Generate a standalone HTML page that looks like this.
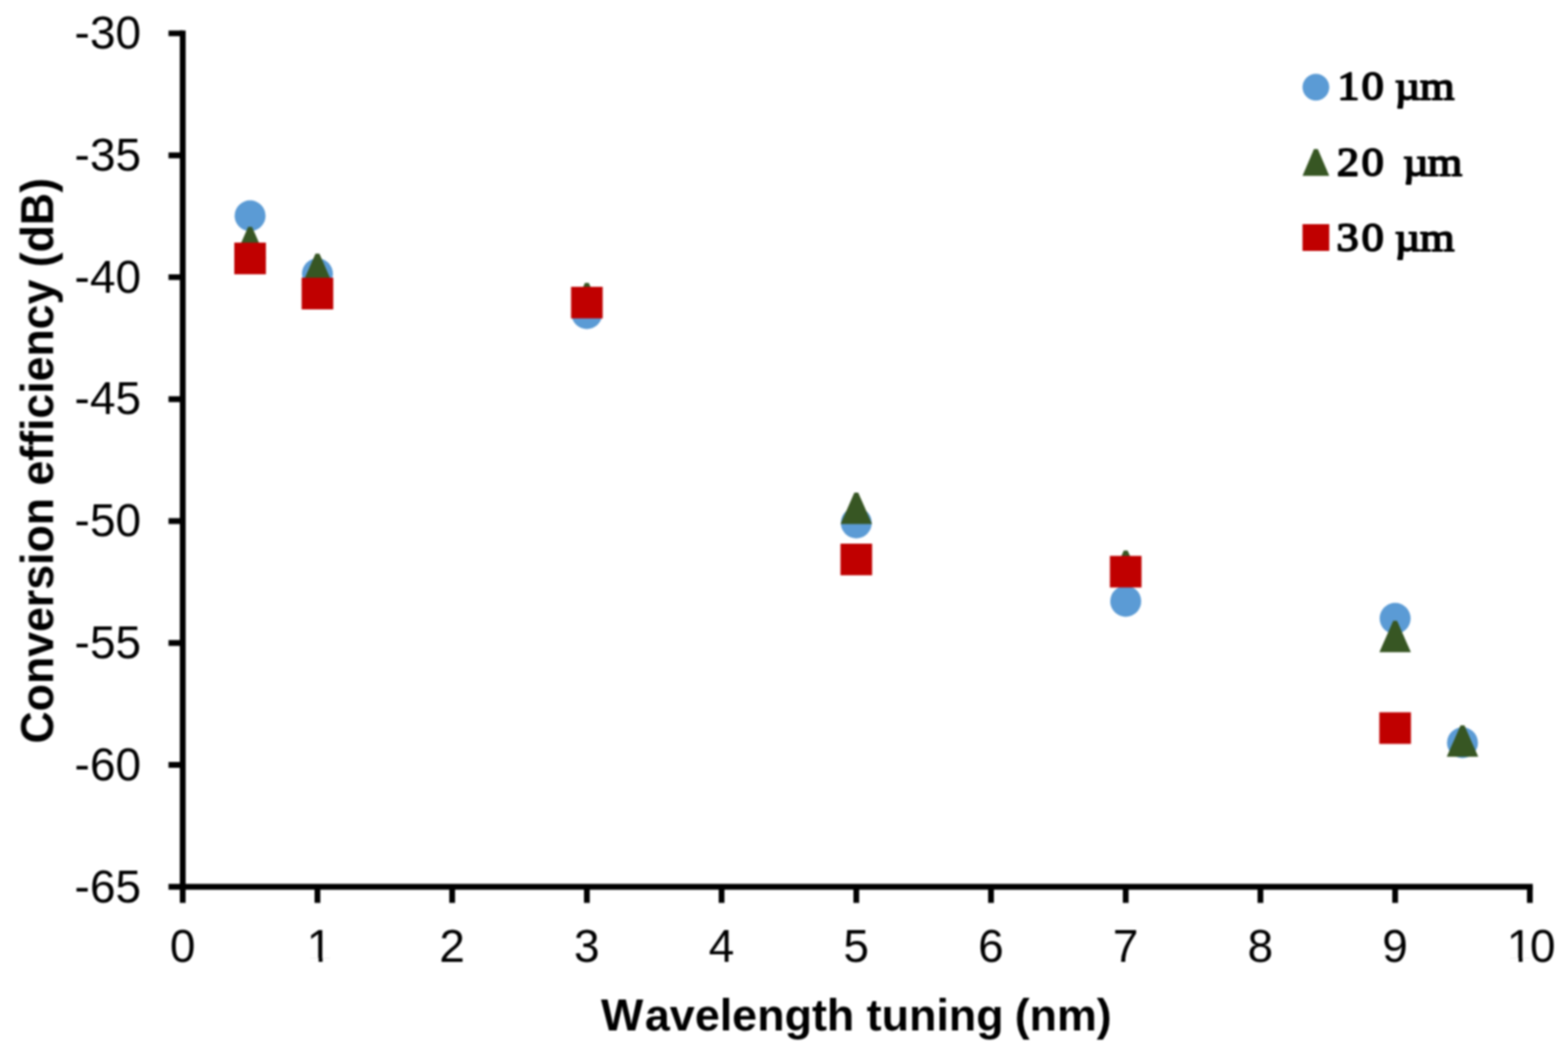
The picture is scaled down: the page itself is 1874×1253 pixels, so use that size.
<!DOCTYPE html>
<html lang="en">
<head>
<meta charset="utf-8">
<title>Conversion efficiency vs wavelength tuning</title>
<style>
html,body{margin:0;padding:0;background:#fff;overflow:hidden;}
body{width:1874px;height:1253px;overflow:hidden;}
svg{display:block;}
text{font-family:"Liberation Sans",sans-serif;fill:#000;}
.tl{font-size:55px;}
.ti{font-size:54.5px;font-weight:bold;}
.lg{font-family:"Liberation Serif",serif;font-size:48.8px;stroke:#000;stroke-width:2px;stroke-linejoin:round;white-space:pre;}
</style>
</head>
<body>
<svg width="1874" height="1253" viewBox="0 0 1874 1253">
<rect width="1874" height="1253" fill="#fff"/>
<defs><filter id="soft" x="-2%" y="-2%" width="104%" height="104%" color-interpolation-filters="sRGB"><feGaussianBlur stdDeviation="1.3"/></filter></defs>
<g filter="url(#soft)">
<g stroke="#000" fill="none" stroke-linecap="butt">
<path stroke-width="7" d="M218.4 36.4 V1063.8"/>
<path stroke-width="7" d="M214.9 1060.3 H1831.9"/>
<path stroke-width="6.9" d="M201.4 39.9H218.4M201.4 185.7H218.4M201.4 331.4H218.4M201.4 477.2H218.4M201.4 623.0H218.4M201.4 768.8H218.4M201.4 914.5H218.4M201.4 1060.3H218.4M218.4 1060.3V1079.6M379.4 1060.3V1079.6M540.4 1060.3V1079.6M701.4 1060.3V1079.6M862.4 1060.3V1079.6M1023.4 1060.3V1079.6M1184.4 1060.3V1079.6M1345.4 1060.3V1079.6M1506.4 1060.3V1079.6M1667.4 1060.3V1079.6M1828.4 1060.3V1079.6"/>
</g>
<g class="tl" text-anchor="end">
<text x="168.6" y="58.1">-30</text>
<text x="168.6" y="203.9">-35</text>
<text x="168.6" y="349.6">-40</text>
<text x="168.6" y="495.4">-45</text>
<text x="168.6" y="641.2">-50</text>
<text x="168.6" y="787.0">-55</text>
<text x="168.6" y="932.7">-60</text>
<text x="168.6" y="1078.5">-65</text>
</g>
<g class="tl">
<text x="203.1" y="1149.8">0</text>
<clipPath id="c1"><rect x="356.6" y="1099.8" width="60" height="45.4"/><rect x="380.8" y="1144.8" width="4.7" height="8"/></clipPath>
<text clip-path="url(#c1)" x="366.6" y="1149.8">1</text>
<text x="525.1" y="1149.8">2</text>
<text x="686.1" y="1149.8">3</text>
<text x="847.1" y="1149.8">4</text>
<text x="1008.1" y="1149.8">5</text>
<text x="1169.1" y="1149.8">6</text>
<text x="1330.1" y="1149.8">7</text>
<text x="1491.1" y="1149.8">8</text>
<text x="1652.1" y="1149.8">9</text>
<clipPath id="c10"><rect x="1790.8" y="1099.8" width="60" height="45.4"/><rect x="1815.0" y="1144.8" width="4.7" height="8"/><rect x="1829.9" y="1099.8" width="40" height="60"/></clipPath>
<text clip-path="url(#c10)" x="1800.8 1828.4" y="1149.8">10</text>
</g>
<text class="ti" transform="translate(718.2 1231.5) scale(0.9832 1)" dx="0 4.1 0 0 0 0 0 0 0 0 0 0 0 0 0 0 0 0 -1.8">Wavelength tuning (nm)</text>
<text class="ti" transform="translate(62.9 889.0) rotate(-90) scale(0.9795 1.030)">Conversion efficiency (dB)</text>
<g>
<circle cx="298.9" cy="258.0" r="18.50" fill="#5b9bd5"/>
<circle cx="379.4" cy="327.3" r="18.50" fill="#5b9bd5"/>
<circle cx="701.4" cy="375.0" r="18.50" fill="#5b9bd5"/>
<circle cx="1023.4" cy="625.2" r="18.50" fill="#5b9bd5"/>
<circle cx="1345.4" cy="718.9" r="18.50" fill="#5b9bd5"/>
<circle cx="1667.4" cy="739.3" r="18.50" fill="#5b9bd5"/>
<circle cx="1747.9" cy="888.0" r="18.50" fill="#5b9bd5"/>
<path d="M296.6 271.2 H301.2 L317.7 308.8 H280.1 Z" fill="#375623"/>
<path d="M377.1 303.2 H381.7 L398.2 340.8 H360.6 Z" fill="#375623"/>
<path d="M699.1 338.2 H703.7 L720.2 375.8 H682.6 Z" fill="#375623"/>
<path d="M1021.1 588.9 H1025.7 L1042.2 626.5 H1004.6 Z" fill="#375623"/>
<path d="M1343.1 658.2 H1347.7 L1364.2 695.8 H1326.6 Z" fill="#375623"/>
<path d="M1665.1 742.2 H1669.7 L1686.2 779.8 H1648.6 Z" fill="#375623"/>
<path d="M1745.6 867.2 H1750.2 L1766.7 904.8 H1729.1 Z" fill="#375623"/>
<rect x="280.0" y="290.1" width="37.8" height="37.8" fill="#c00000"/>
<rect x="360.5" y="332.1" width="37.8" height="37.8" fill="#c00000"/>
<rect x="682.5" y="342.9" width="37.8" height="37.8" fill="#c00000"/>
<rect x="1004.5" y="650.0" width="37.8" height="37.8" fill="#c00000"/>
<rect x="1326.5" y="664.6" width="37.8" height="37.8" fill="#c00000"/>
<rect x="1648.5" y="851.6" width="37.8" height="37.8" fill="#c00000"/>
</g>
<g>
<circle cx="1572.7" cy="104.3" r="16.00" fill="#5b9bd5"/>
<path d="M1570.4 178.3 H1575.0 L1588.7 210.3 H1556.7 Z" fill="#375623"/>
<rect x="1556.7" y="268.0" width="32.0" height="32.0" fill="#c00000"/>
<text class="lg" transform="scale(1.09 1)" x="1466.21 1492.83 1518.35 1529.39 1556.84" y="119.3" xml:space="preserve">10 µm</text>
<text class="lg" transform="scale(1.09 1)" x="1465.89 1492.83 1518.35 1529.36 1538.48 1565.46" y="210.3" xml:space="preserve">20  µm</text>
<text class="lg" transform="scale(1.09 1)" x="1465.42 1492.83 1518.35 1529.39 1556.84" y="299.9" xml:space="preserve">30 µm</text>
</g>
</g>
</svg>
</body>
</html>
